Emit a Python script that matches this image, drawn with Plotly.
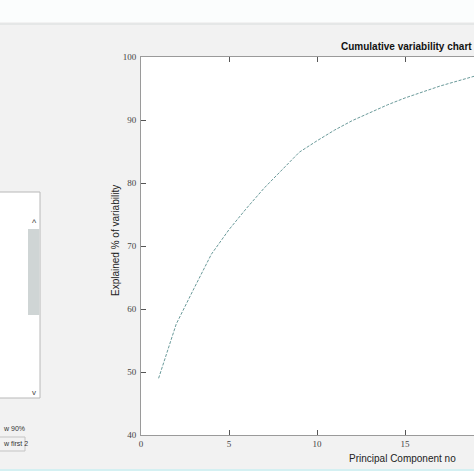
import plotly.graph_objects as go

# ---- data ----
components = list(range(1, 21))
cum_explained = [49.0, 57.6, 63.2, 68.7, 72.6, 76.0, 79.2, 82.1, 84.9, 86.7,
                 88.4, 89.9, 91.2, 92.4, 93.5, 94.5, 95.4, 96.2, 97.0, 97.6]
x_ticks = [0, 5, 10, 15]
y_ticks = [40, 50, 60, 70, 80, 90, 100]

W, H = 474, 474
L, T, B, R = 141, 57, 39, 0
PW, PH = W - L - R, H - T - B


def px(x):
    return (x - L) / PW


def py(y):
    return (H - B - y) / PH


fig = go.Figure()
fig.add_trace(go.Scatter(
    x=components, y=cum_explained, mode="lines",
    line=dict(color="#6a9a9a", width=1, dash="3px,1.5px"),
    showlegend=False, hoverinfo="skip"))

axis_font = dict(family="Liberation Serif", size=9, color="#444444")
fig.update_xaxes(range=[0, 18.92], tickvals=x_ticks, ticks="inside", ticklen=5,
                 tickcolor="#555555", showline=True, linecolor="#9a9a9a",
                 mirror="ticks", showgrid=False, zeroline=False,
                 tickfont=axis_font)
fig.update_yaxes(range=[40, 100], tickvals=y_ticks, ticks="inside", ticklen=5,
                 tickcolor="#555555", showline=True, linecolor="#9a9a9a",
                 mirror=False, showgrid=False, zeroline=False,
                 tickfont=axis_font, ticklabelstandoff=2)

P = dict(xref="paper", yref="paper", layer="above")
shapes = [
    # top white strip and separator
    dict(type="rect", x0=px(-5), x1=px(480), y0=py(-5), y1=py(22),
         fillcolor="#fbfdfd", line=dict(width=0), **P),
    dict(type="line", x0=px(-5), x1=px(480), y0=py(24), y1=py(24),
         line=dict(color="#d8dcdc", width=1), **P),
    # bottom strip
    dict(type="rect", x0=px(-5), x1=px(480), y0=py(470), y1=py(480),
         fillcolor="#ffffff", line=dict(width=0), **P),
    dict(type="line", x0=px(-5), x1=px(480), y0=py(470), y1=py(470),
         line=dict(color="#d4f0f2", width=2), **P),
    # listbox
    dict(type="rect", x0=px(-5), x1=px(40), y0=py(192), y1=py(398),
         fillcolor="#ffffff", line=dict(color="#b8b8b8", width=1), **P),
    dict(type="rect", x0=px(28), x1=px(39.5), y0=py(229), y1=py(315),
         fillcolor="#cfd5d5", line=dict(width=0), **P),
    # button
    dict(type="rect", x0=px(-5), x1=px(25), y0=py(437), y1=py(451),
         fillcolor="rgba(0,0,0,0)", line=dict(color="#c4c4c4", width=1), **P),
]

annotations = [
    dict(text="<b>Cumulative variability chart</b>", x=1.0, y=py(47),
         xref="paper", yref="paper", xanchor="right", yanchor="middle",
         showarrow=False, font=dict(family="Liberation Sans", size=10, color="#111111")),
    dict(text="Principal Component no", x=px(402), y=py(458),
         xref="paper", yref="paper", xanchor="center", yanchor="middle",
         showarrow=False, font=dict(family="Liberation Sans", size=10, color="#222222")),
    dict(text="Explained % of variability", x=px(115), y=py(241), textangle=-90,
         xref="paper", yref="paper", xanchor="center", yanchor="middle",
         showarrow=False, font=dict(family="Liberation Sans", size=10, color="#222222")),
    dict(text="^", x=px(34), y=py(223), xref="paper", yref="paper",
         xanchor="center", yanchor="middle", showarrow=False,
         font=dict(family="Liberation Sans", size=9, color="#444444")),
    dict(text="v", x=px(34), y=py(392), xref="paper", yref="paper",
         xanchor="center", yanchor="middle", showarrow=False,
         font=dict(family="Liberation Sans", size=8, color="#444444")),
    dict(text="w 90%", x=px(1), y=py(428), xref="paper", yref="paper",
         xanchor="left", yanchor="middle", showarrow=False,
         font=dict(family="Liberation Sans", size=7, color="#333333")),
    dict(text="w first 2", x=px(1), y=py(444), xref="paper", yref="paper",
         xanchor="left", yanchor="middle", showarrow=False,
         font=dict(family="Liberation Sans", size=7, color="#333333")),
]

fig.update_layout(
    width=W, height=H,
    margin=dict(l=L, r=R, t=T, b=B, pad=0),
    paper_bgcolor="#f2f2f2", plot_bgcolor="#ffffff",
    shapes=shapes, annotations=annotations,
)

fig.write_html("out.html")
